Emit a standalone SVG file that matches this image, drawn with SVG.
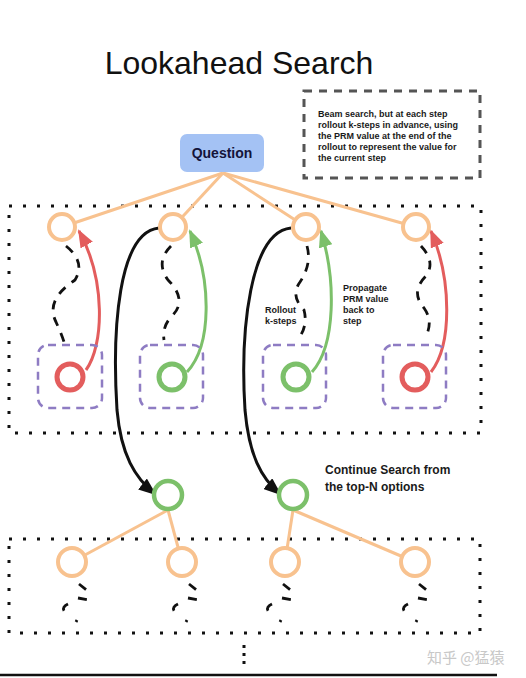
<svg xmlns="http://www.w3.org/2000/svg" width="526" height="678" viewBox="0 0 526 678">
<defs>
<style>
.t{font-family:"Liberation Sans",Arial,sans-serif;font-weight:bold;fill:#1a1a1a}
.orl{stroke:#f8c28f;stroke-width:3;fill:none}
.oc{fill:#fff;stroke:#f8c28f;stroke-width:4}
.gc{fill:#fff;stroke:#7cc06a;stroke-width:5}
.rc{fill:#fff;stroke:#e35d5d;stroke-width:5}
.pb{fill:none;stroke:#8e7cc3;stroke-width:2.5;stroke-dasharray:8,6}
.dot{fill:none;stroke:#111;stroke-width:3;stroke-dasharray:3,11}
.sq{fill:none;stroke:#111;stroke-width:2.8;stroke-dasharray:9,8}
</style>
<marker id="ar" markerUnits="userSpaceOnUse" markerWidth="18" markerHeight="14" refX="16" refY="7" orient="auto"><path d="M0,0 L18,7 L0,14 z" fill="#e35d5d"/></marker>
<marker id="ag" markerUnits="userSpaceOnUse" markerWidth="18" markerHeight="14" refX="16" refY="7" orient="auto"><path d="M0,0 L18,7 L0,14 z" fill="#7cc06a"/></marker>
<marker id="ab" markerUnits="userSpaceOnUse" markerWidth="18" markerHeight="14" refX="16" refY="7" orient="auto"><path d="M0,0 L18,7 L0,14 z" fill="#111"/></marker>
</defs>
<rect width="526" height="678" fill="#fff"/>
<text x="239" y="74" font-family="Liberation Sans,Arial,sans-serif" font-size="32" text-anchor="middle" fill="#111">Lookahead Search</text>

<g id="note">
<rect x="304" y="91" width="176" height="87" fill="none" stroke="#555" stroke-width="3" stroke-dasharray="8,7"/>
<text class="t" font-size="9"><tspan x="318" y="117">Beam search, but at each step</tspan><tspan x="318" y="128">rollout k-steps in advance, using</tspan><tspan x="318" y="139">the PRM value at the end of the</tspan><tspan x="318" y="150">rollout to represent the value for</tspan><tspan x="318" y="161">the current step</tspan></text>
</g>

<g id="frames">
<rect class="dot" x="9" y="206" width="472" height="227"/>
<rect class="dot" x="9" y="539" width="471" height="94"/>
</g>

<g id="connectors">
<line class="orl" x1="223" y1="173" x2="62" y2="227"/>
<line class="orl" x1="223" y1="173" x2="173" y2="227"/>
<line class="orl" x1="223" y1="173" x2="306" y2="227"/>
<line class="orl" x1="223" y1="173" x2="416" y2="227"/>
<line class="orl" x1="168" y1="510" x2="72" y2="562" stroke-width="2.5"/>
<line class="orl" x1="168" y1="510" x2="182" y2="562" stroke-width="2.5"/>
<line class="orl" x1="293" y1="510" x2="285" y2="562" stroke-width="2.5"/>
<line class="orl" x1="293" y1="510" x2="415" y2="562" stroke-width="2.5"/>
<path class="sq" d="M66 246 Q86 262 75 280 Q45 300 56 322 Q62 335 65 345"/>
<path class="sq" d="M171 246 Q155 262 168 280 Q188 300 172 316 Q162 326 164 340"/>
<path class="sq" d="M307 246 Q312 264 300 282 Q290 296 304 310 Q308 325 299 338"/>
<path class="sq" d="M421 246 Q436 262 426 276 Q410 292 424 308 Q434 322 425 338"/>
<path class="sq" d="M79 584 L89 592 M78 598 L89 600 M68 604 Q60 608 66 613 M77 620 L76 622"/>
<path class="sq" d="M189 584 L199 592 M188 598 L199 600 M178 604 Q170 608 176 613 M187 620 L186 622"/>
<path class="sq" d="M283 584 L293 592 M282 598 L293 600 M272 604 Q264 608 270 613 M281 620 L280 622"/>
<path class="sq" d="M419 584 L429 592 M418 598 L429 600 M408 604 Q400 608 406 613 M417 620 L416 622"/>
<path d="M86 370 C104 345 106 280 79 231" fill="none" stroke="#e35d5d" stroke-width="3" marker-end="url(#ar)"/>
<path d="M187 372 C212 345 212 280 190 231" fill="none" stroke="#7cc06a" stroke-width="3" marker-end="url(#ag)"/>
<path d="M312 372 C336 345 336 280 321 231" fill="none" stroke="#7cc06a" stroke-width="3" marker-end="url(#ag)"/>
<path d="M431 372 C452 345 452 280 431 231" fill="none" stroke="#e35d5d" stroke-width="3" marker-end="url(#ar)"/>
<path d="M159 228 C118 232 112 330 117 410 C121 455 135 478 155 494" fill="none" stroke="#111" stroke-width="3" marker-end="url(#ab)"/>
<path d="M291 228 C250 232 240 330 245 410 C249 455 261 478 280 494" fill="none" stroke="#111" stroke-width="3" marker-end="url(#ab)"/>
</g>

<g id="question">
<rect x="180" y="134" width="84" height="38" rx="7" fill="#a4c2f4"/>
<text class="t" x="222" y="158" font-size="14" text-anchor="middle" style="fill:#14143a">Question</text>
</g>

<g id="top-nodes">
<circle class="oc" cx="62" cy="227" r="13"/>
<circle class="oc" cx="173" cy="227" r="13"/>
<circle class="oc" cx="306" cy="227" r="13"/>
<circle class="oc" cx="416" cy="227" r="13"/>
</g>

<g id="rollout-nodes">
<rect class="pb" x="38" y="345" width="64" height="63" rx="10"/>
<rect class="pb" x="140" y="345" width="63" height="63" rx="10"/>
<rect class="pb" x="263" y="345" width="63" height="63" rx="10"/>
<rect class="pb" x="383" y="345" width="63" height="63" rx="10"/>
<circle class="rc" cx="70" cy="377" r="13"/>
<circle class="gc" cx="172" cy="377" r="13"/>
<circle class="gc" cx="296" cy="377" r="13"/>
<circle class="rc" cx="415" cy="377" r="13"/>
</g>

<g id="labels">
<text class="t" font-size="9"><tspan x="265" y="313">Rollout</tspan><tspan x="265" y="324">k-steps</tspan></text>
<text class="t" font-size="9"><tspan x="343" y="291">Propagate</tspan><tspan x="343" y="302">PRM value</tspan><tspan x="343" y="313">back to</tspan><tspan x="343" y="324">step</tspan></text>
<text class="t" font-size="12"><tspan x="325" y="474">Continue Search from</tspan><tspan x="325" y="491">the top-N options</tspan></text>
</g>

<g id="next-nodes">
<circle cx="168" cy="495" r="14" fill="#fff" stroke="#7cc06a" stroke-width="4.5"/>
<circle cx="293" cy="495" r="14" fill="#fff" stroke="#7cc06a" stroke-width="4.5"/>
</g>

<g id="bottom-nodes">
<circle class="oc" cx="72" cy="562" r="14"/>
<circle class="oc" cx="182" cy="562" r="14"/>
<circle class="oc" cx="285" cy="562" r="14"/>
<circle class="oc" cx="415" cy="562" r="14"/>
</g>

<g id="ellipsis">
<line x1="244" y1="645" x2="244" y2="665" stroke="#111" stroke-width="3" stroke-dasharray="3,5"/>
</g>
<line x1="0" y1="675" x2="497" y2="675" stroke="#111" stroke-width="2.5"/>
<text x="427" y="663" font-family="Noto Sans CJK SC,sans-serif" font-size="15" fill="#c8c8c8">知乎 @猛猿</text>
</svg>
